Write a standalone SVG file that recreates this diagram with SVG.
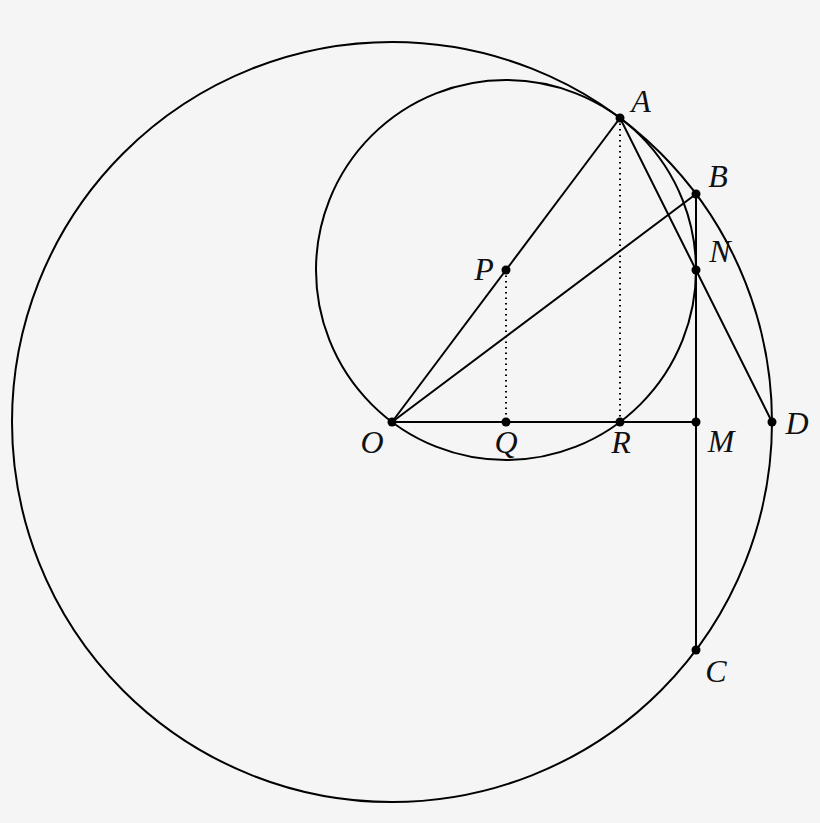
<svg xmlns="http://www.w3.org/2000/svg" width="820" height="823" viewBox="0 0 820 823">
<style>
.c{fill:none;stroke:#000;stroke-width:2}
.l{stroke:#000;stroke-width:2;fill:none}
.d{stroke:#000;stroke-width:2;stroke-dasharray:1.5 4;fill:none}
.p{fill:#000}
text{font-family:"Liberation Serif","DejaVu Serif",serif;font-style:italic;font-size:32px;fill:#111;text-anchor:middle}
</style>
<rect width="820" height="823" fill="#f5f5f5"/>
<g id="circles">
<circle id="big" class="c" cx="392" cy="422" r="380"/>
<circle id="small" class="c" cx="506" cy="270" r="190"/>
</g>
<g id="connectors">
<line class="l" x1="392" y1="422" x2="620" y2="118"/>
<line class="l" x1="392" y1="422" x2="696" y2="194"/>
<line class="l" x1="392" y1="422" x2="696" y2="422"/>
<line class="l" x1="620" y1="118" x2="772" y2="422"/>
<line class="l" x1="696" y1="194" x2="696" y2="650"/>
<line class="d" x1="620" y1="118" x2="620" y2="422"/>
<line class="d" x1="506" y1="270" x2="506" y2="422"/>
</g>
<g id="A"><circle class="p" cx="620" cy="118" r="4.5"/><text x="641" y="112">A</text></g>
<g id="B"><circle class="p" cx="696" cy="194" r="4.5"/><text x="718" y="187">B</text></g>
<g id="N"><circle class="p" cx="696" cy="270" r="4.5"/><text x="720" y="262">N</text></g>
<g id="P"><circle class="p" cx="506" cy="270" r="4.5"/><text x="484" y="280">P</text></g>
<g id="O"><circle class="p" cx="392" cy="422" r="4.5"/><text x="372" y="453">O</text></g>
<g id="Q"><circle class="p" cx="506" cy="422" r="4.5"/><text x="506" y="453">Q</text></g>
<g id="R"><circle class="p" cx="620" cy="422" r="4.5"/><text x="621" y="453">R</text></g>
<g id="M"><circle class="p" cx="696" cy="422" r="4.5"/><text x="721" y="452">M</text></g>
<g id="D"><circle class="p" cx="772" cy="422" r="4.5"/><text x="797" y="434">D</text></g>
<g id="C"><circle class="p" cx="696" cy="650" r="4.5"/><text x="716" y="682">C</text></g>
</svg>
